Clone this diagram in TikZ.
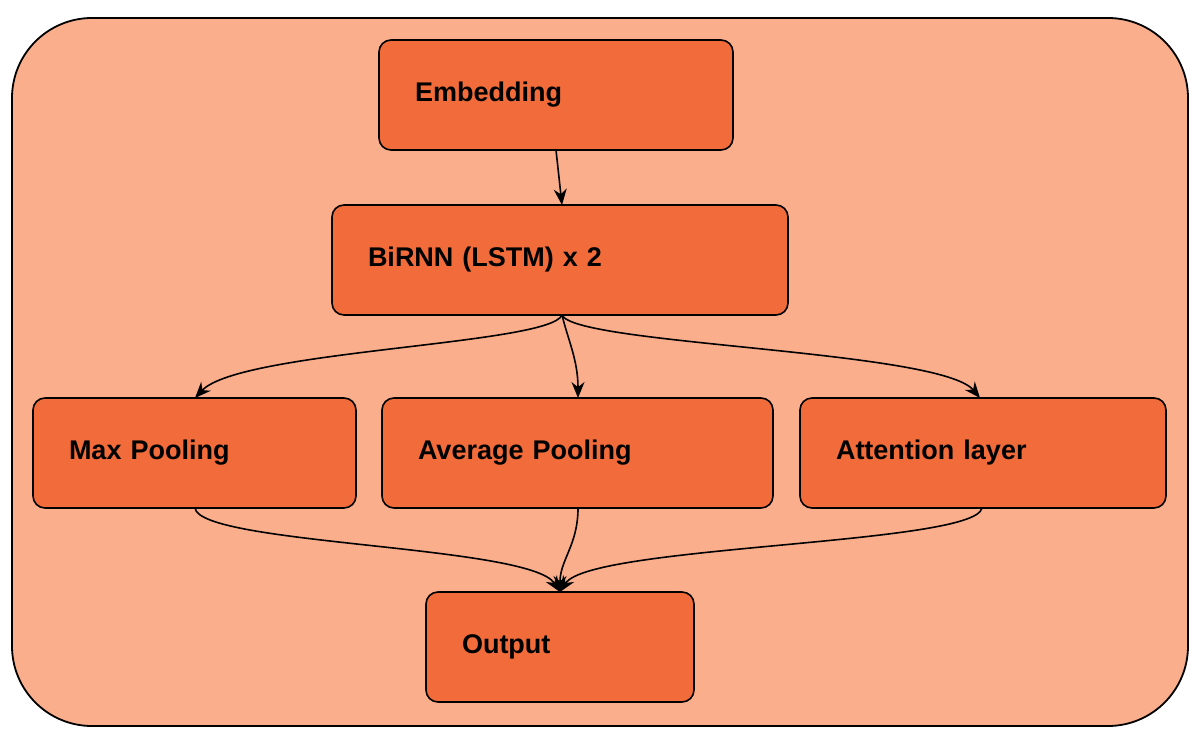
\documentclass[tikz,border=0pt]{standalone}
\usepackage{fontspec}
\setmainfont{Liberation Sans}
\usetikzlibrary{arrows.meta}
\definecolor{outerc}{HTML}{FBAE8C}
\definecolor{boxc}{HTML}{F26B3A}
\begin{document}
\begin{tikzpicture}[x=1pt,y=-1pt,
 box/.style={draw=black,line width=1.6pt,fill=boxc,rounded corners=12pt,inner xsep=36pt,inner ysep=0pt,align=left,font=\fontsize{27}{32}\selectfont\bfseries,minimum height=110pt},
 arr/.style={draw=black,line width=1.6pt,-{Stealth[length=16pt,width=13pt]}}]
\useasboundingbox (0,0) rectangle (1200,741);
\draw[line width=1.8pt,fill=outerc,rounded corners=80pt] (12,18) rectangle (1188,726);
\node[box,text width=282pt] (emb) at (556,95) {Embedding};
\node[box,text width=384pt] (rnn) at (560,260) {BiRNN (LSTM) x 2};
\node[box,text width=251pt] (max) at (194.5,453) {Max Pooling};
\node[box,text width=319pt] (avg) at (577.5,453) {Average Pooling};
\node[box,text width=294pt] (att) at (983,453) {Attention layer};
\node[box,text width=196pt] (out) at (560,647) {Output};
\coordinate (rs) at (562,315);
\coordinate (os) at (560,592);
\draw[arr] (556,150) -- (562,205);
\draw[arr] (rs) .. controls (550,345) and (240,350) .. (195,398);
\draw[arr] (rs) .. controls (568,340) and (578,360) .. (578,398);
\draw[arr] (rs) .. controls (575,345) and (940,350) .. (980,398);
\draw[arr] (195,508) .. controls (200,545) and (530,545) .. (os);
\draw[arr] (578,508) .. controls (578,545) and (560,560) .. (os);
\draw[arr] (982,508) .. controls (975,545) and (590,545) .. (os);
\end{tikzpicture}
\end{document}
